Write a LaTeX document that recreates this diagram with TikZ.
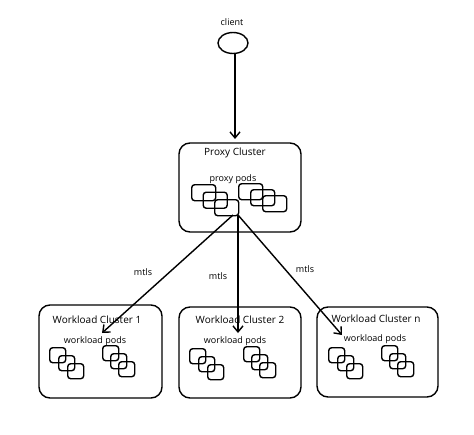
\documentclass[tikz,border=0pt]{standalone}
\usepackage{fontspec}
\setmainfont{Open Sans}
\usetikzlibrary{arrows.meta,shapes.geometric,positioning}

\begin{document}
\begin{tikzpicture}[
    x=1pt, y=-1pt,
    line width=1.4pt,
    cluster/.style={draw, rounded corners=11pt, inner sep=0pt},
    pod/.style={draw, rounded corners=3pt, inner sep=0pt, anchor=north west},
    txt/.style={font=\fontsize{10}{12}\selectfont, inner sep=1pt},
    small/.style={font=\fontsize{9}{11}\selectfont, inner sep=1pt},
    conn/.style={-{Straight Barb[length=6pt,width=10pt]}}
  ]
    \useasboundingbox (0,0) rectangle (474,434);

    % Client
    \node[draw, ellipse, minimum width=30pt, minimum height=21pt] (client) at (233,43) {};
    \node[small] (clientlbl) at (232,22) {client};

    % Proxy cluster
    \node[cluster, minimum width=122pt, minimum height=89pt] (proxy) at (240,187.5) {};
    \node[txt] (proxytitle) at (235,153) {Proxy Cluster};
    \node[small] (proxypods) at (233,179) {proxy pods};
    \foreach \i in {0,1,2} {
      \node[pod, minimum width=24pt, minimum height=16pt] (pa\i) at (191+11.5*\i,184+7.5*\i) {};
      \node[pod, minimum width=24pt, minimum height=16pt] (pb\i) at (238+12*\i,183+6*\i) {};
    }

    % Workload clusters
    \node[cluster, minimum width=123pt, minimum height=93pt] (wc1) at (100.5,351.5) {};
    \node[cluster, minimum width=122pt, minimum height=91pt] (wc2) at (240,352.5) {};
    \node[cluster, minimum width=121pt, minimum height=90pt] (wcn) at (377.5,352) {};
    \node[txt] (wt1) at (97,320) {Workload Cluster 1};
    \node[txt] (wt2) at (240,320) {Workload Cluster 2};
    \node[txt] (wtn) at (376,319) {Workload Cluster n};
    \node[small] (wp1) at (95,341) {workload pods};
    \node[small] (wp2) at (235,341) {workload pods};
    \node[small] (wpn) at (375,339) {workload pods};

    % Workload pods
    \foreach \n/\xa/\ya/\xb/\yb in {1/49/347/102/345, 2/189/348/243/346, n/328/347/381/345} {
      \foreach \i in {0,1,2} {
        \node[pod, minimum width=16pt, minimum height=15pt] (w\n a\i) at (\xa+9*\i,\ya+8*\i) {};
        \node[pod, minimum width=16pt, minimum height=15pt] (w\n b\i) at (\xb+8*\i,\yb+8*\i) {};
      }
    }

    % Connections
    \coordinate (proxyin) at (235,139);
    \draw[conn] (client.south -| proxyin) -- (proxyin);
    \coordinate (tapa) at (233,215);
    \coordinate (tapb) at (238,215);
    \coordinate (hit1) at (102,333);
    \coordinate (hit2) at (238,333);
    \coordinate (hitn) at (342,335);
    \draw[conn] (tapa) -- (hit1);
    \draw[conn] (tapb) -- (hit2);
    \draw[conn] (tapb) -- (hitn);

    % Link labels
    \node[small] (mtls1) at (143,272) {mtls};
    \node[small] (mtls2) at (218,276) {mtls};
    \node[small] (mtlsn) at (305,269) {mtls};
  \end{tikzpicture}
\end{document}
